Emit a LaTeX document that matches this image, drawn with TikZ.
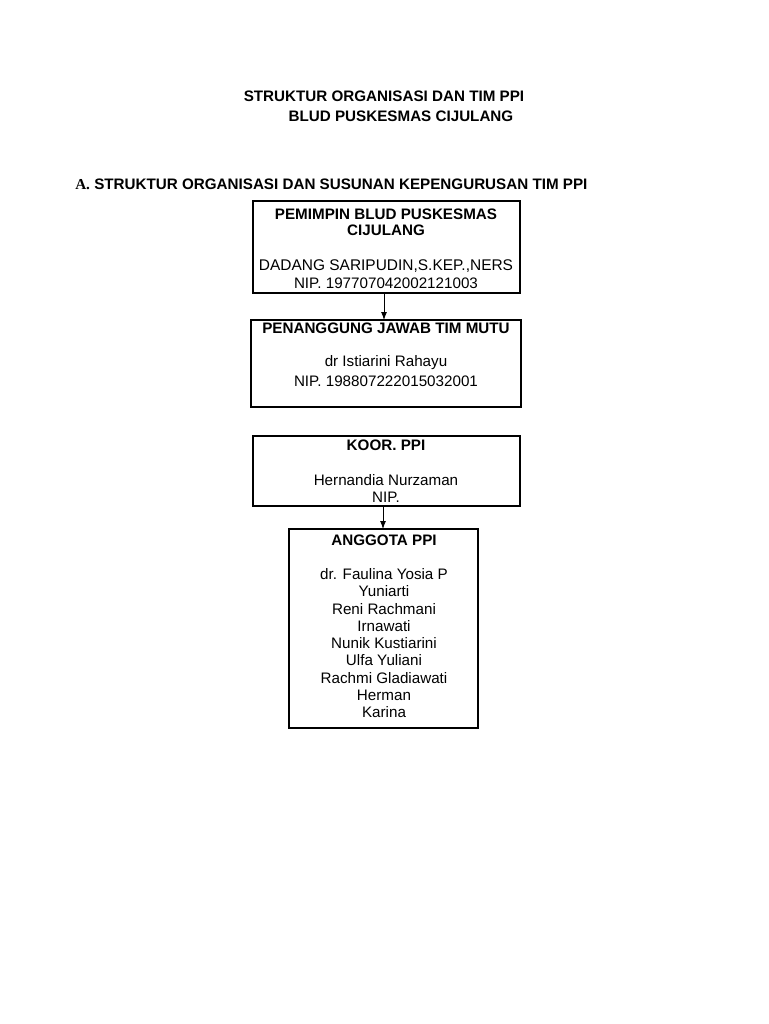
\documentclass[tikz,border=0pt]{standalone}
\usepackage{fontspec}
\setmainfont{Liberation Sans}
\newfontfamily\serifA{Liberation Serif}
\usetikzlibrary{arrows.meta}
\begin{document}
\begin{tikzpicture}[x=0.75pt,y=-0.75pt,
  box/.style={draw,line width=1.5pt},
  txt/.style={inner sep=0pt,font=\fontsize{11.4pt}{13pt}\selectfont},
  btxt/.style={txt,font=\fontsize{11.4pt}{13pt}\selectfont\bfseries},
  arr/.style={-{Latex[length=6pt,width=4.5pt]},line width=0.7pt}]
\useasboundingbox (0,0) rectangle (768,1024);
\node[btxt] (t1) at (384,96) {STRUKTUR ORGANISASI DAN TIM PPI};
\node[btxt] (t2) at (401,116) {BLUD PUSKESMAS CIJULANG};
\node[btxt,anchor=west] (t3) at (75,184) {{\serifA A.} STRUKTUR ORGANISASI DAN SUSUNAN KEPENGURUSAN TIM PPI};
% box 1
\draw[box] (253,201) rectangle (520,293);
\coordinate (b1b) at (384,293);
\node[btxt] (a1) at (386,214) {PEMIMPIN BLUD PUSKESMAS};
\node[btxt] (a2) at (386,230) {CIJULANG};
\node[txt,font=\fontsize{11.6pt}{13pt}\selectfont] (a3) at (386,266) {DADANG SARIPUDIN,S.KEP.,NERS};
\node[txt] (a4) at (386,283) {NIP. 197707042002121003};
% box 2
\draw[box] (251,320) rectangle (521,407);
\coordinate (b2t) at (384,320);
\node[btxt] (c1) at (386,328) {PENANGGUNG JAWAB TIM MUTU};
\node[txt] (c2) at (386,363) {dr Istiarini Rahayu};
\node[txt] (c3) at (386,381) {NIP. 198807222015032001};
% box 3
\draw[box] (253,436) rectangle (520,506);
\coordinate (b3b) at (383,506);
\node[btxt] (d1) at (386,445) {KOOR. PPI};
\node[txt] (d2) at (386,480) {Hernandia Nurzaman};
\node[txt] (d3) at (386,497) {NIP.};
% box 4
\draw[box] (289,529) rectangle (478,728);
\coordinate (b4t) at (383,529);
\node[btxt] (e0) at (384,540) {ANGGOTA PPI};
\foreach \n/\y in {dr. Faulina Yosia P/574,Yuniarti/591,Reni Rachmani/609,Irnawati/626,Nunik Kustiarini/643,Ulfa Yuliani/660,Rachmi Gladiawati/678,Herman/695,Karina/712}
  \node[txt] at (384,\y) {\n};
\draw[arr] (b1b) -- (b2t);
\draw[arr] (b3b) -- (b4t);
\end{tikzpicture}
\end{document}
